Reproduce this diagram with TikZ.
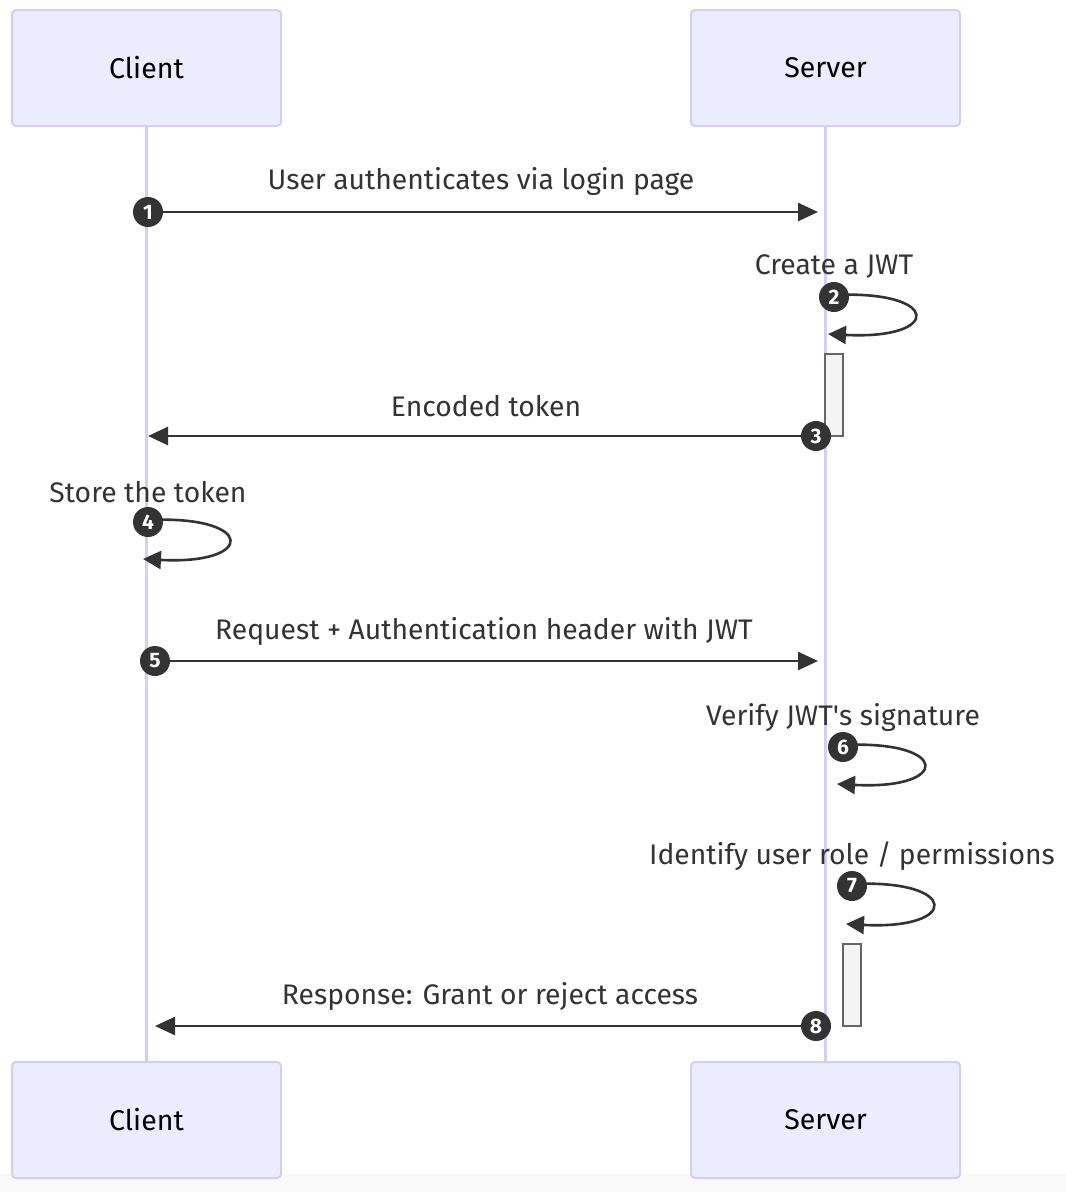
\documentclass[tikz,border=0pt]{standalone}
\usepackage{fontspec}
\setmainfont{Fira Sans}
\usetikzlibrary{arrows.meta}
\definecolor{actfill}{HTML}{ECECFF}
\definecolor{actline}{HTML}{D6CDF3}
\definecolor{ink}{HTML}{333333}
\definecolor{actbox}{HTML}{F4F4F4}
\definecolor{actboxline}{HTML}{666666}
\tikzset{
  actor/.style={draw=actline, line width=2pt, fill=actfill, rounded corners=4pt,
    minimum width=269pt, minimum height=116pt, inner sep=0pt,
    font=\fontsize{28.5}{32}\selectfont, text=black},
  life/.style={draw=actline, line width=3pt},
  msg/.style={draw=ink, line width=2.6pt, -{Triangle[length=20pt,width=18pt]}},
  loopmsg/.style={draw=ink, line width=2.6pt, -{Triangle[length=18pt,width=18pt]}},
  lbl/.style={font=\fontsize{28.3}{32}\selectfont, text=ink, inner sep=0pt},
  num/.style={circle, fill=ink, text=white, minimum size=30pt, inner sep=0pt,
    font=\fontsize{21}{22}\selectfont\bfseries},
  activ/.style={draw=actboxline, line width=1.6pt, fill=actbox},
}
\begin{document}
\begin{tikzpicture}[x=1pt,y=-1pt]
\useasboundingbox (0,0) rectangle (1066,1192);
\fill[gray!5] (0,1174) rectangle (1066,1192);
% actors
\node[actor] (ct) at (146.5,68) {Client};
\node[actor] (st) at (825.5,68) {Server};
\node[actor] (cb) at (146.5,1120) {Client};
\node[actor] (sb) at (825.5,1120) {Server};
\draw[life] (ct.south) -- (cb.north);
\draw[life] (st.south) -- (sb.north);
% activation boxes
\draw[activ] (825,354) rectangle (843,436);
\draw[activ] (843,944) rectangle (861,1026);
% message 1
\coordinate (m1a) at (148,212);
\coordinate (m1b) at (818,212);
\draw[msg] (m1a) -- (m1b);
\node[num] (n1) at (m1a) {1};
\node[lbl] (l1) at (481,181) {User authenticates via login page};
% message 2 (self)
\coordinate (m2a) at (834,295);
\coordinate (m2b) at (828,334);
\draw[loopmsg] (m2a) .. controls (942,290) and (942,340) .. (m2b);
\node[num] (n2) at (834,297) {2};
\node[lbl] (l2) at (834,267) {Create a JWT};
% message 3
\coordinate (m3a) at (816,436);
\coordinate (m3b) at (148,436);
\draw[msg] (m3a) -- (m3b);
\node[num] (n3) at (m3a) {3};
\node[lbl] (l3) at (486,406) {Encoded token};
% message 4 (self)
\coordinate (m4a) at (148,520);
\coordinate (m4b) at (143,559);
\draw[loopmsg] (m4a) .. controls (256,515) and (256,565) .. (m4b);
\node[num] (n4) at (148,522) {4};
\node[lbl] (l4) at (148,492) {Store the token};
% message 5
\coordinate (m5a) at (155,661);
\coordinate (m5b) at (818,661);
\draw[msg] (m5a) -- (m5b);
\node[num] (n5) at (m5a) {5};
\node[lbl] (l5) at (484,631) {Request + Authentication header with JWT};
% message 6 (self)
\coordinate (m6a) at (843,745);
\coordinate (m6b) at (837,784);
\draw[loopmsg] (m6a) .. controls (951,740) and (951,790) .. (m6b);
\node[num] (n6) at (843,747) {6};
\node[lbl] (l6) at (843,717) {Verify JWT\textquotesingle s signature};
% message 7 (self)
\coordinate (m7a) at (852,884);
\coordinate (m7b) at (846,924);
\draw[loopmsg] (m7a) .. controls (960,879) and (960,930) .. (m7b);
\node[num] (n7) at (852,886) {7};
\node[lbl] (l7) at (852,856) {Identify user role / permissions};
% message 8
\coordinate (m8a) at (816,1026);
\coordinate (m8b) at (155,1026);
\draw[msg] (m8a) -- (m8b);
\node[num] (n8) at (m8a) {8};
\node[lbl] (l8) at (490,996) {Response: Grant or reject access};
\end{tikzpicture}
\end{document}
